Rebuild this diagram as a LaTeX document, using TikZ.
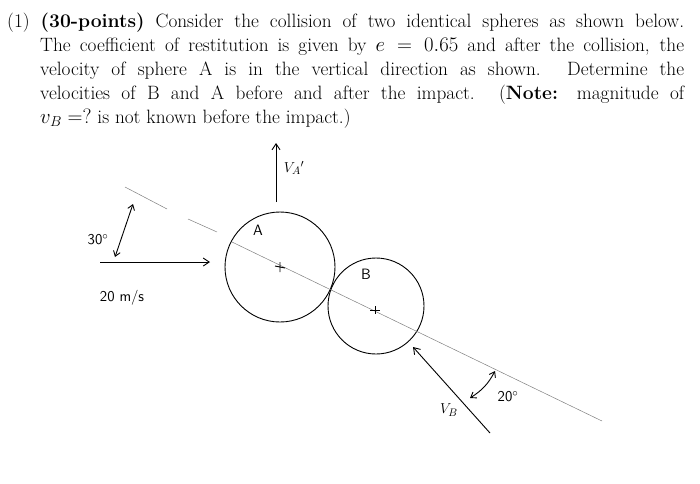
\documentclass[tikz,border=0pt]{standalone}
\usetikzlibrary{arrows.meta}
\begin{document}
\begin{tikzpicture}[x=1pt,y=-1pt,
  txt/.style={anchor=base west,inner sep=0pt,font=\fontsize{19.3}{22}\selectfont},
  hand/.style={inner sep=0pt,font=\fontsize{15}{17}\selectfont\sffamily},
  ln/.style={line width=0.9pt},
  arr/.style={ln,-{Straight Barb[length=6pt,width=8pt]}},
  guide/.style={gray,line width=0.5pt}]
\useasboundingbox (0,0) rectangle (700,483);
\node[txt] (l1) at (7,27) {\hbox to 677pt{(1) \textbf{(30-points)} Consider the collision of two identical spheres as shown below.}};
\node[txt] (l2) at (40,51) {\hbox to 644pt{The coefficient of restitution is given by $e=0.65$ and after the collision, the}};
\node[txt] (l3) at (40,75) {\hbox to 644pt{velocity of sphere A is in the vertical direction as shown. Determine the}};
\node[txt] (l4) at (40,99) {\hbox to 644pt{velocities of B and A before and after the impact. (\textbf{Note:} magnitude of}};
\node[txt] (l5) at (40,123) {$v_B=?$ is not known before the impact.)};
% spheres
\node[circle,draw,ln,minimum size=110pt,inner sep=0pt] (A) at (280,267) {};
\node[circle,draw,ln,minimum size=96pt,inner sep=0pt] (B) at (376,306) {};
\node[hand] (Al) at (258,230) {A};
\node[hand] (Bl) at (366,274) {B};
% line of centers
\coordinate (d1) at (125,187); \coordinate (d2) at (167,209);
\coordinate (d3) at (188,219); \coordinate (d4) at (217,232);
\coordinate (e1) at (232,242); \coordinate (e2) at (602,421);
\draw[guide] (d1)--(d2) (d3)--(d4);
\draw[guide] (e1)--(e2);
\draw[ln] (A.center)++(-5,-1)--++(10,2) (A.center)++(0,-5)--++(0,10);
\draw[ln] (375,310)++(-5,0)--++(10,0) (375,310)++(0,-4)--++(0,8);
% velocity of A before
\coordinate (s1) at (100,262); \coordinate (s2) at (210,262);
\draw[arr] (s1)--(s2);
\node[hand] (v20) at (122,298) {20 m/s};
\coordinate (t1) at (115,257); \coordinate (t2) at (133,204);
\draw[ln,{Straight Barb[length=5pt,width=7pt]}-{Straight Barb[length=5pt,width=7pt]}] (t1)--(t2);
\node[hand] (a30) at (98,240) {30$^{\circ}$};
% VA'
\coordinate (u1) at (276,202); \coordinate (u2) at (276,143);
\draw[arr] (u1)--(u2);
\node[hand] (vA) at (294,168) {$V_A{}'$};
% VB
\coordinate (w1) at (490,433); \coordinate (w2) at (413,347);
\draw[arr] (w1)--(w2);
\node[hand] (vB) at (449,410) {$V_B$};
\coordinate (r1) at (470,398); \coordinate (r2) at (495,371);
\draw[ln,{Straight Barb[length=5pt,width=7pt]}-{Straight Barb[length=5pt,width=7pt]}] (r1) to[bend right=15] (r2);
\node[hand] (a20) at (508,397) {20$^{\circ}$};
\end{tikzpicture}
\end{document}
